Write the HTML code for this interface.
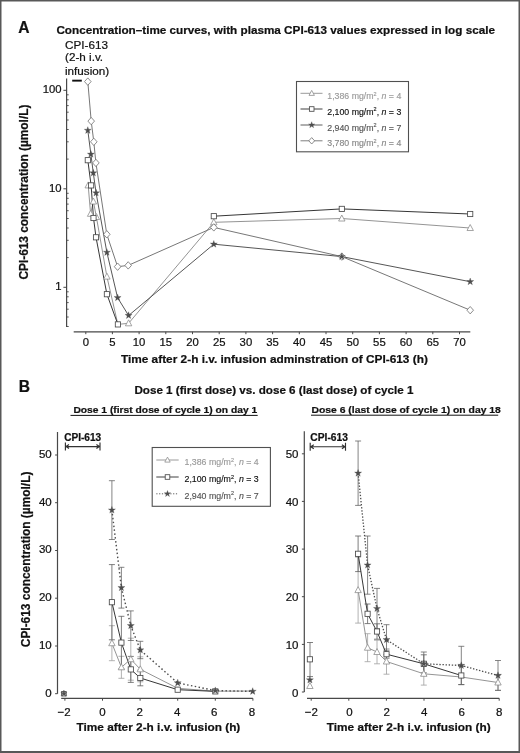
<!DOCTYPE html>
<html><head><meta charset="utf-8"><title>CPI-613 concentration–time curves</title>
<style>
html,body{margin:0;padding:0;background:#fff;}
body{width:520px;height:753px;overflow:hidden;position:relative;}
svg{position:absolute;left:0;top:0;}
svg text{font-family:"Liberation Sans",sans-serif;stroke:#111;stroke-width:0.22px;}
</style></head><body>
<svg width="520" height="753" viewBox="0 0 520 753">
<rect x="0" y="0" width="520" height="753" fill="#fff"/>
<text x="18.2" y="32.5" font-size="15.6" font-weight="bold" text-anchor="start" fill="#111">A</text>
<text x="56.4" y="34.2" font-size="11.7" font-weight="bold" text-anchor="start" fill="#111" textLength="438.6" lengthAdjust="spacingAndGlyphs">Concentration–time curves, with plasma CPI-613 values expressed in log scale</text>
<text x="65" y="48.7" font-size="11.7" font-weight="normal" text-anchor="start" fill="#111">CPI-613</text>
<text x="65" y="61" font-size="11.7" font-weight="normal" text-anchor="start" fill="#111">(2-h i.v.</text>
<text x="65" y="74.5" font-size="11.7" font-weight="normal" text-anchor="start" fill="#111">infusion)</text>
<rect x="72.2" y="79.7" width="9.6" height="1.9" fill="#111"/>
<path d="M66.6,78.5V327" stroke="#484848" stroke-width="1.2" fill="none"/>
<path d="M63.4,90.3H66.5" stroke="#484848" stroke-width="1"/>
<text x="61.6" y="93.1" font-size="11.3" font-weight="normal" text-anchor="end" fill="#111">100</text>
<path d="M63.4,188.8H66.5" stroke="#484848" stroke-width="1"/>
<text x="61.6" y="191.6" font-size="11.3" font-weight="normal" text-anchor="end" fill="#111">10</text>
<path d="M63.4,287.3H66.5" stroke="#484848" stroke-width="1"/>
<text x="61.6" y="290.1" font-size="11.3" font-weight="normal" text-anchor="end" fill="#111">1</text>
<path d="M66.5,326.5h2.2M66.5,317.0h2.2M66.5,309.2h2.2M66.5,302.6h2.2M66.5,296.8h2.2M66.5,291.8h2.2M66.5,257.6h2.2M66.5,240.3h2.2M66.5,228.0h2.2M66.5,218.5h2.2M66.5,210.7h2.2M66.5,204.1h2.2M66.5,198.3h2.2M66.5,193.3h2.2M66.5,159.1h2.2M66.5,141.8h2.2M66.5,129.5h2.2M66.5,120.0h2.2M66.5,112.2h2.2M66.5,105.6h2.2M66.5,99.8h2.2M66.5,94.8h2.2" stroke="#484848" stroke-width="0.9" fill="none"/>
<path d="M73.7,331.8H470.3" stroke="#484848" stroke-width="1.2" fill="none"/>
<text x="85.8" y="346.4" font-size="11.3" font-weight="normal" text-anchor="middle" fill="#111">0</text>
<text x="112.4" y="346.4" font-size="11.3" font-weight="normal" text-anchor="middle" fill="#111">5</text>
<text x="139.1" y="346.4" font-size="11.3" font-weight="normal" text-anchor="middle" fill="#111">10</text>
<text x="165.8" y="346.4" font-size="11.3" font-weight="normal" text-anchor="middle" fill="#111">15</text>
<text x="192.5" y="346.4" font-size="11.3" font-weight="normal" text-anchor="middle" fill="#111">20</text>
<text x="219.2" y="346.4" font-size="11.3" font-weight="normal" text-anchor="middle" fill="#111">25</text>
<text x="245.9" y="346.4" font-size="11.3" font-weight="normal" text-anchor="middle" fill="#111">30</text>
<text x="272.6" y="346.4" font-size="11.3" font-weight="normal" text-anchor="middle" fill="#111">35</text>
<text x="299.3" y="346.4" font-size="11.3" font-weight="normal" text-anchor="middle" fill="#111">40</text>
<text x="326.0" y="346.4" font-size="11.3" font-weight="normal" text-anchor="middle" fill="#111">45</text>
<text x="352.7" y="346.4" font-size="11.3" font-weight="normal" text-anchor="middle" fill="#111">50</text>
<text x="379.4" y="346.4" font-size="11.3" font-weight="normal" text-anchor="middle" fill="#111">55</text>
<text x="406.1" y="346.4" font-size="11.3" font-weight="normal" text-anchor="middle" fill="#111">60</text>
<text x="432.8" y="346.4" font-size="11.3" font-weight="normal" text-anchor="middle" fill="#111">65</text>
<text x="459.5" y="346.4" font-size="11.3" font-weight="normal" text-anchor="middle" fill="#111">70</text>
<path d="M85.8,331.8v2.4M112.4,331.8v2.4M139.1,331.8v2.4M165.8,331.8v2.4M192.5,331.8v2.4M219.2,331.8v2.4M245.9,331.8v2.4M272.6,331.8v2.4M299.3,331.8v2.4M326.0,331.8v2.4M352.7,331.8v2.4M379.4,331.8v2.4M406.1,331.8v2.4M432.8,331.8v2.4M459.5,331.8v2.4" stroke="#484848" stroke-width="1" fill="none"/>
<text x="274.4" y="362.8" font-size="11.8" font-weight="bold" text-anchor="middle" fill="#111" textLength="307" lengthAdjust="spacingAndGlyphs">Time after 2-h i.v. infusion adminstration of CPI-613 (h)</text>
<text transform="translate(28.1,192.1) rotate(-90)" font-size="11.9" font-weight="bold" text-anchor="middle" fill="#111" textLength="175" lengthAdjust="spacingAndGlyphs">CPI-613 concentration (µmol/L)</text>
<polyline points="88.2,185.4 90.6,213.8 93.4,201.5 96.4,217.0 106.9,276.6 117.9,324.4 128.6,323.3 213.8,222.3 341.8,218.5 470.2,228.0" fill="none" stroke="#8e8e8e" stroke-width="0.95"/>
<polyline points="87.8,81.6 91.2,121.1 93.8,141.8 95.9,162.9 106.8,234.3 117.6,266.7 128.2,265.4 213.8,227.4 341.8,256.6 470.2,310.2" fill="none" stroke="#707070" stroke-width="0.95"/>
<polyline points="87.8,130.4 90.9,154.3 93.3,173.0 96.1,193.0 106.9,252.4 117.6,297.7 128.6,315.5 213.8,244.2 341.8,256.6 470.2,281.7" fill="none" stroke="#4d4d4d" stroke-width="0.95"/>
<polyline points="87.8,160.2 91.1,185.4 93.5,218.0 96.0,237.3 106.9,294.2 117.9,324.4" fill="none" stroke="#2b2b2b" stroke-width="0.95"/>
<polyline points="213.8,216.2 341.8,208.9 470.2,214.0" fill="none" stroke="#2b2b2b" stroke-width="0.95"/>
<polygon points="88.20,181.92 91.40,187.92 85.00,187.92" fill="#fff" stroke="#8e8e8e" stroke-width="0.8"/>
<polygon points="90.60,210.32 93.80,216.32 87.40,216.32" fill="#fff" stroke="#8e8e8e" stroke-width="0.8"/>
<polygon points="93.40,198.02 96.60,204.02 90.20,204.02" fill="#fff" stroke="#8e8e8e" stroke-width="0.8"/>
<polygon points="96.40,213.52 99.60,219.52 93.20,219.52" fill="#fff" stroke="#8e8e8e" stroke-width="0.8"/>
<polygon points="106.90,273.12 110.10,279.12 103.70,279.12" fill="#fff" stroke="#8e8e8e" stroke-width="0.8"/>
<polygon points="128.60,319.82 131.80,325.82 125.40,325.82" fill="#fff" stroke="#8e8e8e" stroke-width="0.8"/>
<polygon points="213.80,218.82 217.00,224.82 210.60,224.82" fill="#fff" stroke="#8e8e8e" stroke-width="0.8"/>
<polygon points="341.80,215.02 345.00,221.02 338.60,221.02" fill="#fff" stroke="#8e8e8e" stroke-width="0.8"/>
<polygon points="470.20,224.52 473.40,230.52 467.00,230.52" fill="#fff" stroke="#8e8e8e" stroke-width="0.8"/>
<polygon points="87.80,77.90 91.10,81.60 87.80,85.30 84.50,81.60" fill="#fff" stroke="#707070" stroke-width="0.8"/>
<polygon points="91.20,117.40 94.50,121.10 91.20,124.80 87.90,121.10" fill="#fff" stroke="#707070" stroke-width="0.8"/>
<polygon points="93.80,138.10 97.10,141.80 93.80,145.50 90.50,141.80" fill="#fff" stroke="#707070" stroke-width="0.8"/>
<polygon points="95.90,159.20 99.20,162.90 95.90,166.60 92.60,162.90" fill="#fff" stroke="#707070" stroke-width="0.8"/>
<polygon points="106.80,230.60 110.10,234.30 106.80,238.00 103.50,234.30" fill="#fff" stroke="#707070" stroke-width="0.8"/>
<polygon points="117.60,263.00 120.90,266.70 117.60,270.40 114.30,266.70" fill="#fff" stroke="#707070" stroke-width="0.8"/>
<polygon points="128.20,261.70 131.50,265.40 128.20,269.10 124.90,265.40" fill="#fff" stroke="#707070" stroke-width="0.8"/>
<polygon points="213.80,223.70 217.10,227.40 213.80,231.10 210.50,227.40" fill="#fff" stroke="#707070" stroke-width="0.8"/>
<polygon points="341.80,252.90 345.10,256.60 341.80,260.30 338.50,256.60" fill="#fff" stroke="#707070" stroke-width="0.8"/>
<polygon points="470.20,306.50 473.50,310.20 470.20,313.90 466.90,310.20" fill="#fff" stroke="#707070" stroke-width="0.8"/>
<polygon points="87.80,126.70 88.67,129.20 91.32,129.26 89.21,130.86 89.97,133.39 87.80,131.88 85.63,133.39 86.39,130.86 84.28,129.26 86.93,129.20" fill="#4d4d4d" stroke="#4d4d4d" stroke-width="0.3"/>
<polygon points="90.90,150.60 91.77,153.10 94.42,153.16 92.31,154.76 93.07,157.29 90.90,155.78 88.73,157.29 89.49,154.76 87.38,153.16 90.03,153.10" fill="#4d4d4d" stroke="#4d4d4d" stroke-width="0.3"/>
<polygon points="93.30,169.30 94.17,171.80 96.82,171.86 94.71,173.46 95.47,175.99 93.30,174.48 91.13,175.99 91.89,173.46 89.78,171.86 92.43,171.80" fill="#4d4d4d" stroke="#4d4d4d" stroke-width="0.3"/>
<polygon points="96.10,189.30 96.97,191.80 99.62,191.86 97.51,193.46 98.27,195.99 96.10,194.48 93.93,195.99 94.69,193.46 92.58,191.86 95.23,191.80" fill="#4d4d4d" stroke="#4d4d4d" stroke-width="0.3"/>
<polygon points="106.90,248.70 107.77,251.20 110.42,251.26 108.31,252.86 109.07,255.39 106.90,253.88 104.73,255.39 105.49,252.86 103.38,251.26 106.03,251.20" fill="#4d4d4d" stroke="#4d4d4d" stroke-width="0.3"/>
<polygon points="117.60,294.00 118.47,296.50 121.12,296.56 119.01,298.16 119.77,300.69 117.60,299.18 115.43,300.69 116.19,298.16 114.08,296.56 116.73,296.50" fill="#4d4d4d" stroke="#4d4d4d" stroke-width="0.3"/>
<polygon points="128.60,311.80 129.47,314.30 132.12,314.36 130.01,315.96 130.77,318.49 128.60,316.98 126.43,318.49 127.19,315.96 125.08,314.36 127.73,314.30" fill="#4d4d4d" stroke="#4d4d4d" stroke-width="0.3"/>
<polygon points="213.80,240.50 214.67,243.00 217.32,243.06 215.21,244.66 215.97,247.19 213.80,245.68 211.63,247.19 212.39,244.66 210.28,243.06 212.93,243.00" fill="#4d4d4d" stroke="#4d4d4d" stroke-width="0.3"/>
<polygon points="341.80,252.90 342.67,255.40 345.32,255.46 343.21,257.06 343.97,259.59 341.80,258.08 339.63,259.59 340.39,257.06 338.28,255.46 340.93,255.40" fill="#4d4d4d" stroke="#4d4d4d" stroke-width="0.3"/>
<polygon points="470.20,278.00 471.07,280.50 473.72,280.56 471.61,282.16 472.37,284.69 470.20,283.18 468.03,284.69 468.79,282.16 466.68,280.56 469.33,280.50" fill="#4d4d4d" stroke="#4d4d4d" stroke-width="0.3"/>
<rect x="85.20" y="157.60" width="5.2" height="5.2" fill="#fff" stroke="#4a4a4a" stroke-width="0.85"/>
<rect x="88.50" y="182.80" width="5.2" height="5.2" fill="#fff" stroke="#4a4a4a" stroke-width="0.85"/>
<rect x="90.90" y="215.40" width="5.2" height="5.2" fill="#fff" stroke="#4a4a4a" stroke-width="0.85"/>
<rect x="93.40" y="234.70" width="5.2" height="5.2" fill="#fff" stroke="#4a4a4a" stroke-width="0.85"/>
<rect x="104.30" y="291.60" width="5.2" height="5.2" fill="#fff" stroke="#4a4a4a" stroke-width="0.85"/>
<rect x="115.30" y="321.80" width="5.2" height="5.2" fill="#fff" stroke="#4a4a4a" stroke-width="0.85"/>
<rect x="211.20" y="213.60" width="5.2" height="5.2" fill="#fff" stroke="#4a4a4a" stroke-width="0.85"/>
<rect x="339.20" y="206.30" width="5.2" height="5.2" fill="#fff" stroke="#4a4a4a" stroke-width="0.85"/>
<rect x="467.60" y="211.40" width="5.2" height="5.2" fill="#fff" stroke="#4a4a4a" stroke-width="0.85"/>
<rect x="296.5" y="81.5" width="112" height="70.3" fill="#fff" stroke="#505050" stroke-width="1.1"/>
<polyline points="300.5,93.3 322.5,93.3" fill="none" stroke="#8e8e8e" stroke-width="0.9"/>
<polygon points="311.70,90.40 314.40,95.40 309.00,95.40" fill="#fff" stroke="#8e8e8e" stroke-width="0.8"/>
<text x="327.3" y="98.9" font-size="9" fill="#9a9a9a" style="stroke:#9a9a9a;stroke-width:0.15px" textLength="74" lengthAdjust="spacingAndGlyphs">1,386 mg/m<tspan font-size="5.6" dy="-3.2">2</tspan><tspan dy="3.2">, </tspan><tspan font-style="italic">n</tspan> = 4</text>
<polyline points="300.5,109.0 322.5,109.0" fill="none" stroke="#2b2b2b" stroke-width="0.9"/>
<rect x="309.40" y="106.70" width="4.6" height="4.6" fill="#fff" stroke="#4a4a4a" stroke-width="0.85"/>
<text x="327.3" y="114.6" font-size="9" fill="#111" style="stroke:#111;stroke-width:0.15px" textLength="74" lengthAdjust="spacingAndGlyphs">2,100 mg/m<tspan font-size="5.6" dy="-3.2">2</tspan><tspan dy="3.2">, </tspan><tspan font-style="italic">n</tspan> = 3</text>
<polyline points="300.5,125.0 322.5,125.0" fill="none" stroke="#4d4d4d" stroke-width="0.9"/>
<polygon points="311.70,121.70 312.48,123.93 314.84,123.98 312.96,125.41 313.64,127.67 311.70,126.32 309.76,127.67 310.44,125.41 308.56,123.98 310.92,123.93" fill="#4d4d4d" stroke="#4d4d4d" stroke-width="0.3"/>
<text x="327.3" y="130.6" font-size="9" fill="#555" style="stroke:#555;stroke-width:0.15px" textLength="74" lengthAdjust="spacingAndGlyphs">2,940 mg/m<tspan font-size="5.6" dy="-3.2">2</tspan><tspan dy="3.2">, </tspan><tspan font-style="italic">n</tspan> = 7</text>
<polyline points="300.5,140.8 322.5,140.8" fill="none" stroke="#707070" stroke-width="0.9"/>
<polygon points="311.70,137.60 314.60,140.80 311.70,144.00 308.80,140.80" fill="#fff" stroke="#707070" stroke-width="0.8"/>
<text x="327.3" y="146.4" font-size="9" fill="#888" style="stroke:#888;stroke-width:0.15px" textLength="74" lengthAdjust="spacingAndGlyphs">3,780 mg/m<tspan font-size="5.6" dy="-3.2">2</tspan><tspan dy="3.2">, </tspan><tspan font-style="italic">n</tspan> = 4</text>
<text x="18.7" y="392" font-size="15.6" font-weight="bold" text-anchor="start" fill="#111">B</text>
<text x="273.9" y="393.6" font-size="11.65" font-weight="bold" text-anchor="middle" fill="#111" textLength="279" lengthAdjust="spacingAndGlyphs">Dose 1 (first dose) vs. dose 6 (last dose) of cycle 1</text>
<text x="73.4" y="413.4" font-size="9.9" font-weight="bold" text-anchor="start" fill="#111" textLength="183.8" lengthAdjust="spacingAndGlyphs">Dose 1 (first dose of cycle 1) on day 1</text>
<path d="M70.5,415.4H257.7" stroke="#111" stroke-width="1"/>
<text x="311.5" y="413.4" font-size="9.9" font-weight="bold" text-anchor="start" fill="#111" textLength="189.3" lengthAdjust="spacingAndGlyphs">Dose 6 (last dose of cycle 1) on day 18</text>
<path d="M311,415.2H498.2" stroke="#111" stroke-width="1"/>
<path d="M57.5,432V693.7" stroke="#484848" stroke-width="1.2" fill="none"/>
<text x="51.7" y="696.6" font-size="11.5" font-weight="normal" text-anchor="end" fill="#111">0</text>
<text x="51.7" y="648.9" font-size="11.5" font-weight="normal" text-anchor="end" fill="#111">10</text>
<text x="51.7" y="601.1" font-size="11.5" font-weight="normal" text-anchor="end" fill="#111">20</text>
<text x="51.7" y="553.4" font-size="11.5" font-weight="normal" text-anchor="end" fill="#111">30</text>
<text x="51.7" y="505.6" font-size="11.5" font-weight="normal" text-anchor="end" fill="#111">40</text>
<text x="51.7" y="457.9" font-size="11.5" font-weight="normal" text-anchor="end" fill="#111">50</text>
<path d="M55.1,693.7H57.5M55.1,646.0H57.5M55.1,598.2H57.5M55.1,550.5H57.5M55.1,502.7H57.5M55.1,455.0H57.5" stroke="#484848" stroke-width="1" fill="none"/>
<path d="M61.2,698.3H252.9" stroke="#484848" stroke-width="1.2" fill="none"/>
<text x="64.0" y="715.8" font-size="11.5" font-weight="normal" text-anchor="middle" fill="#111">−2</text>
<text x="102.5" y="715.8" font-size="11.5" font-weight="normal" text-anchor="middle" fill="#111">0</text>
<text x="139.8" y="715.8" font-size="11.5" font-weight="normal" text-anchor="middle" fill="#111">2</text>
<text x="177.1" y="715.8" font-size="11.5" font-weight="normal" text-anchor="middle" fill="#111">4</text>
<text x="214.3" y="715.8" font-size="11.5" font-weight="normal" text-anchor="middle" fill="#111">6</text>
<text x="251.9" y="715.8" font-size="11.5" font-weight="normal" text-anchor="middle" fill="#111">8</text>
<path d="M64.9,698.3v2.4M102.5,698.3v2.4M140.1,698.3v2.4M177.7,698.3v2.4M215.3,698.3v2.4M252.9,698.3v2.4" stroke="#484848" stroke-width="1" fill="none"/>
<text x="76.5" y="730.5" font-size="11.8" font-weight="bold" text-anchor="start" fill="#111" textLength="163.8" lengthAdjust="spacingAndGlyphs">Time after 2-h i.v. infusion (h)</text>
<text transform="translate(30.2,559.4) rotate(-90)" font-size="11.9" font-weight="bold" text-anchor="middle" fill="#111" textLength="175.6" lengthAdjust="spacingAndGlyphs">CPI-613 concentration (µmol/L)</text>
<text x="64.2" y="440.8" font-size="10" font-weight="bold" text-anchor="start" fill="#111" textLength="37" lengthAdjust="spacingAndGlyphs">CPI-613</text>
<path d="M65.4,442.6V450.6M100,442.6V450.6M65.4,446.6H100M69.0,444.6L66.0,446.6L69.0,448.6M96.4,444.6L99.4,446.6L96.4,448.6" stroke="#333" stroke-width="1.15" fill="none"/>
<polygon points="63.90,690.60 66.65,695.60 61.15,695.60" fill="#fff" stroke="#8e8e8e" stroke-width="0.8"/>
<rect x="61.65" y="691.45" width="4.5" height="4.5" fill="#fff" stroke="#4a4a4a" stroke-width="0.85"/>
<polygon points="63.90,690.20 64.68,692.43 67.04,692.48 65.16,693.91 65.84,696.17 63.90,694.82 61.96,696.17 62.64,693.91 60.76,692.48 63.12,692.43" fill="#4d4d4d" stroke="#4d4d4d" stroke-width="0.3"/>
<path d="M111.9,625.7V660.7M108.9,625.7H114.9M108.9,660.7H114.9" stroke="#a0a0a0" stroke-width="0.8" fill="none"/>
<path d="M121.4,656.3V678.3M118.4,656.3H124.4M118.4,678.3H124.4" stroke="#a0a0a0" stroke-width="0.8" fill="none"/>
<path d="M130.8,638.2V680.2M127.8,638.2H133.8M127.8,680.2H133.8" stroke="#a0a0a0" stroke-width="0.8" fill="none"/>
<path d="M140.3,656.8V681.8M137.3,656.8H143.3M137.3,681.8H143.3" stroke="#a0a0a0" stroke-width="0.8" fill="none"/>
<path d="M111.9,564.6V639.8M108.9,564.6H114.9M108.9,639.8H114.9" stroke="#5e5e5e" stroke-width="0.8" fill="none"/>
<path d="M121.4,616.3V668.9M118.4,616.3H124.4M118.4,668.9H124.4" stroke="#5e5e5e" stroke-width="0.8" fill="none"/>
<path d="M130.8,656.4V682.4M127.8,656.4H133.8M127.8,682.4H133.8" stroke="#5e5e5e" stroke-width="0.8" fill="none"/>
<path d="M140.3,670.2V685.8M137.3,670.2H143.3M137.3,685.8H143.3" stroke="#5e5e5e" stroke-width="0.8" fill="none"/>
<path d="M111.9,480.7V539.5M108.9,480.7H114.9M108.9,539.5H114.9" stroke="#666" stroke-width="0.8" fill="none"/>
<path d="M121.4,567.3V608.1M118.4,567.3H124.4M118.4,608.1H124.4" stroke="#666" stroke-width="0.8" fill="none"/>
<path d="M130.8,610.9V640.5M127.8,610.9H133.8M127.8,640.5H133.8" stroke="#666" stroke-width="0.8" fill="none"/>
<path d="M140.3,641.3V658.7M137.3,641.3H143.3M137.3,658.7H143.3" stroke="#666" stroke-width="0.8" fill="none"/>
<polyline points="111.9,643.2 121.4,667.3 130.8,659.2 140.3,669.3 177.7,688.3 215.3,691.2 252.7,691.0" fill="none" stroke="#8e8e8e" stroke-width="0.95"/>
<polyline points="111.9,602.2 121.4,642.6 130.8,669.4 140.3,678.0 177.7,689.7 215.3,691.4" fill="none" stroke="#2b2b2b" stroke-width="0.95"/>
<polyline points="111.9,510.1 121.4,587.7 130.8,625.7 140.3,650.0 177.7,682.9 215.3,690.6 252.7,691.4" fill="none" stroke="#4d4d4d" stroke-width="1.4" stroke-dasharray="1.5,2.4"/>
<polygon points="111.90,639.72 115.10,645.72 108.70,645.72" fill="#fff" stroke="#8e8e8e" stroke-width="0.8"/>
<polygon points="121.40,663.82 124.60,669.82 118.20,669.82" fill="#fff" stroke="#8e8e8e" stroke-width="0.8"/>
<polygon points="130.80,655.72 134.00,661.72 127.60,661.72" fill="#fff" stroke="#8e8e8e" stroke-width="0.8"/>
<polygon points="140.30,665.82 143.50,671.82 137.10,671.82" fill="#fff" stroke="#8e8e8e" stroke-width="0.8"/>
<rect x="109.30" y="599.60" width="5.2" height="5.2" fill="#fff" stroke="#4a4a4a" stroke-width="0.85"/>
<rect x="118.80" y="640.00" width="5.2" height="5.2" fill="#fff" stroke="#4a4a4a" stroke-width="0.85"/>
<rect x="128.20" y="666.80" width="5.2" height="5.2" fill="#fff" stroke="#4a4a4a" stroke-width="0.85"/>
<rect x="137.70" y="675.40" width="5.2" height="5.2" fill="#fff" stroke="#4a4a4a" stroke-width="0.85"/>
<rect x="175.10" y="687.10" width="5.2" height="5.2" fill="#fff" stroke="#4a4a4a" stroke-width="0.85"/>
<rect x="212.70" y="688.80" width="5.2" height="5.2" fill="#fff" stroke="#4a4a4a" stroke-width="0.85"/>
<polygon points="111.90,506.40 112.77,508.90 115.42,508.96 113.31,510.56 114.07,513.09 111.90,511.58 109.73,513.09 110.49,510.56 108.38,508.96 111.03,508.90" fill="#4d4d4d" stroke="#4d4d4d" stroke-width="0.3"/>
<polygon points="121.40,584.00 122.27,586.50 124.92,586.56 122.81,588.16 123.57,590.69 121.40,589.18 119.23,590.69 119.99,588.16 117.88,586.56 120.53,586.50" fill="#4d4d4d" stroke="#4d4d4d" stroke-width="0.3"/>
<polygon points="130.80,622.00 131.67,624.50 134.32,624.56 132.21,626.16 132.97,628.69 130.80,627.18 128.63,628.69 129.39,626.16 127.28,624.56 129.93,624.50" fill="#4d4d4d" stroke="#4d4d4d" stroke-width="0.3"/>
<polygon points="140.30,646.30 141.17,648.80 143.82,648.86 141.71,650.46 142.47,652.99 140.30,651.48 138.13,652.99 138.89,650.46 136.78,648.86 139.43,648.80" fill="#4d4d4d" stroke="#4d4d4d" stroke-width="0.3"/>
<polygon points="177.70,679.20 178.57,681.70 181.22,681.76 179.11,683.36 179.87,685.89 177.70,684.38 175.53,685.89 176.29,683.36 174.18,681.76 176.83,681.70" fill="#4d4d4d" stroke="#4d4d4d" stroke-width="0.3"/>
<polygon points="215.30,686.90 216.17,689.40 218.82,689.46 216.71,691.06 217.47,693.59 215.30,692.08 213.13,693.59 213.89,691.06 211.78,689.46 214.43,689.40" fill="#4d4d4d" stroke="#4d4d4d" stroke-width="0.3"/>
<polygon points="252.70,687.70 253.57,690.20 256.22,690.26 254.11,691.86 254.87,694.39 252.70,692.88 250.53,694.39 251.29,691.86 249.18,690.26 251.83,690.20" fill="#4d4d4d" stroke="#4d4d4d" stroke-width="0.3"/>
<rect x="152.2" y="447.5" width="118.2" height="58.8" fill="#fff" stroke="#505050" stroke-width="1.1"/>
<polyline points="156.3,460.0 178.7,460.0" fill="none" stroke="#8e8e8e" stroke-width="0.9"/>
<polygon points="167.50,457.10 170.20,462.10 164.80,462.10" fill="#fff" stroke="#8e8e8e" stroke-width="0.8"/>
<text x="184.5" y="464.8" font-size="9" fill="#9a9a9a" style="stroke:#9a9a9a;stroke-width:0.15px" textLength="74.2" lengthAdjust="spacingAndGlyphs">1,386 mg/m<tspan font-size="5.6" dy="-3.2">2</tspan><tspan dy="3.2">, </tspan><tspan font-style="italic">n</tspan> = 4</text>
<polyline points="156.3,477.0 178.7,477.0" fill="none" stroke="#2b2b2b" stroke-width="0.9"/>
<rect x="165.20" y="474.70" width="4.6" height="4.6" fill="#fff" stroke="#4a4a4a" stroke-width="0.85"/>
<text x="184.5" y="481.8" font-size="9" fill="#111" style="stroke:#111;stroke-width:0.15px" textLength="74.2" lengthAdjust="spacingAndGlyphs">2,100 mg/m<tspan font-size="5.6" dy="-3.2">2</tspan><tspan dy="3.2">, </tspan><tspan font-style="italic">n</tspan> = 3</text>
<polyline points="156.3,493.8 178.7,493.8" fill="none" stroke="#4d4d4d" stroke-width="0.9" stroke-dasharray="1.2,1.6"/>
<polygon points="167.50,490.50 168.28,492.73 170.64,492.78 168.76,494.21 169.44,496.47 167.50,495.12 165.56,496.47 166.24,494.21 164.36,492.78 166.72,492.73" fill="#4d4d4d" stroke="#4d4d4d" stroke-width="0.3"/>
<text x="184.5" y="498.6" font-size="9" fill="#555" style="stroke:#555;stroke-width:0.15px" textLength="74.2" lengthAdjust="spacingAndGlyphs">2,940 mg/m<tspan font-size="5.6" dy="-3.2">2</tspan><tspan dy="3.2">, </tspan><tspan font-style="italic">n</tspan> = 7</text>
<path d="M304.3,431.3V692" stroke="#484848" stroke-width="1.2" fill="none"/>
<text x="298.5" y="696.6" font-size="11.5" font-weight="normal" text-anchor="end" fill="#111">0</text>
<text x="298.5" y="648.9" font-size="11.5" font-weight="normal" text-anchor="end" fill="#111">10</text>
<text x="298.5" y="601.1" font-size="11.5" font-weight="normal" text-anchor="end" fill="#111">20</text>
<text x="298.5" y="553.4" font-size="11.5" font-weight="normal" text-anchor="end" fill="#111">30</text>
<text x="298.5" y="505.6" font-size="11.5" font-weight="normal" text-anchor="end" fill="#111">40</text>
<text x="298.5" y="457.9" font-size="11.5" font-weight="normal" text-anchor="end" fill="#111">50</text>
<path d="M301.90000000000003,692.0H304.3M301.90000000000003,644.4H304.3M301.90000000000003,596.7H304.3M301.90000000000003,549.1H304.3M301.90000000000003,501.4H304.3M301.90000000000003,453.8H304.3" stroke="#484848" stroke-width="1" fill="none"/>
<path d="M307,698.3H499.2" stroke="#484848" stroke-width="1.2" fill="none"/>
<text x="311.4" y="715.8" font-size="11.5" font-weight="normal" text-anchor="middle" fill="#111">−2</text>
<text x="349.4" y="715.8" font-size="11.5" font-weight="normal" text-anchor="middle" fill="#111">0</text>
<text x="386.8" y="715.8" font-size="11.5" font-weight="normal" text-anchor="middle" fill="#111">2</text>
<text x="424.2" y="715.8" font-size="11.5" font-weight="normal" text-anchor="middle" fill="#111">4</text>
<text x="461.6" y="715.8" font-size="11.5" font-weight="normal" text-anchor="middle" fill="#111">6</text>
<text x="499.2" y="715.8" font-size="11.5" font-weight="normal" text-anchor="middle" fill="#111">8</text>
<path d="M311.2,698.3v2.4M348.8,698.3v2.4M386.4,698.3v2.4M424.0,698.3v2.4M461.6,698.3v2.4M499.2,698.3v2.4" stroke="#484848" stroke-width="1" fill="none"/>
<text x="326.8" y="730.5" font-size="11.8" font-weight="bold" text-anchor="start" fill="#111" textLength="163.8" lengthAdjust="spacingAndGlyphs">Time after 2-h i.v. infusion (h)</text>
<text x="310.3" y="440.8" font-size="10" font-weight="bold" text-anchor="start" fill="#111" textLength="37.6" lengthAdjust="spacingAndGlyphs">CPI-613</text>
<path d="M310.2,442.7V450.7M345.5,442.7V450.7M310.2,446.7H345.5M313.8,444.7L310.8,446.7L313.8,448.7M341.9,444.7L344.9,446.7L341.9,448.7" stroke="#333" stroke-width="1.15" fill="none"/>
<path d="M310.0,642.5V676.6M307.0,642.5H313.0M307.0,676.6H313.0" stroke="#5e5e5e" stroke-width="0.8" fill="none"/>
<path d="M358.1,557.1V623.1M355.1,557.1H361.1M355.1,623.1H361.1" stroke="#a0a0a0" stroke-width="0.8" fill="none"/>
<path d="M367.6,633.7V661.7M364.6,633.7H370.6M364.6,661.7H370.6" stroke="#a0a0a0" stroke-width="0.8" fill="none"/>
<path d="M377.0,640.2V663.8M374.0,640.2H380.0M374.0,663.8H380.0" stroke="#a0a0a0" stroke-width="0.8" fill="none"/>
<path d="M386.5,648.8V674.2M383.5,648.8H389.5M383.5,674.2H389.5" stroke="#a0a0a0" stroke-width="0.8" fill="none"/>
<path d="M423.8,662.5V685.1M420.8,662.5H426.8M420.8,685.1H426.8" stroke="#a0a0a0" stroke-width="0.8" fill="none"/>
<path d="M498.0,674.9V690.1M495.0,674.9H501.0M495.0,690.1H501.0" stroke="#a0a0a0" stroke-width="0.8" fill="none"/>
<path d="M358.1,536.0V571.6M355.1,536.0H361.1M355.1,571.6H361.1" stroke="#5e5e5e" stroke-width="0.8" fill="none"/>
<path d="M367.6,604.0V623.6M364.6,604.0H370.6M364.6,623.6H370.6" stroke="#5e5e5e" stroke-width="0.8" fill="none"/>
<path d="M377.0,623.8V639.2M374.0,623.8H380.0M374.0,639.2H380.0" stroke="#5e5e5e" stroke-width="0.8" fill="none"/>
<path d="M386.5,650.2V658.2M383.5,650.2H389.5M383.5,658.2H389.5" stroke="#5e5e5e" stroke-width="0.8" fill="none"/>
<path d="M423.8,654.8V672.8M420.8,654.8H426.8M420.8,672.8H426.8" stroke="#5e5e5e" stroke-width="0.8" fill="none"/>
<path d="M461.3,666.5V684.5M458.3,666.5H464.3M458.3,684.5H464.3" stroke="#5e5e5e" stroke-width="0.8" fill="none"/>
<path d="M358.1,441.0V505.4M355.1,441.0H361.1M355.1,505.4H361.1" stroke="#666" stroke-width="0.8" fill="none"/>
<path d="M367.6,536.0V594.2M364.6,536.0H370.6M364.6,594.2H370.6" stroke="#666" stroke-width="0.8" fill="none"/>
<path d="M377.0,588.4V628.8M374.0,588.4H380.0M374.0,628.8H380.0" stroke="#666" stroke-width="0.8" fill="none"/>
<path d="M386.5,624.7V654.7M383.5,624.7H389.5M383.5,654.7H389.5" stroke="#666" stroke-width="0.8" fill="none"/>
<path d="M423.8,652.0V675.6M420.8,652.0H426.8M420.8,675.6H426.8" stroke="#666" stroke-width="0.8" fill="none"/>
<path d="M461.3,646.3V684.7M458.3,646.3H464.3M458.3,684.7H464.3" stroke="#666" stroke-width="0.8" fill="none"/>
<path d="M498.0,660.5V690.5M495.0,660.5H501.0M495.0,690.5H501.0" stroke="#666" stroke-width="0.8" fill="none"/>
<polyline points="358.1,590.1 367.6,647.7 377.0,652.0 386.5,661.5 423.8,673.8 461.3,677.0 498.0,682.5" fill="none" stroke="#8e8e8e" stroke-width="0.95"/>
<polyline points="358.1,553.8 367.6,613.8 377.0,631.5 386.5,654.2 423.8,663.8 461.3,675.5" fill="none" stroke="#2b2b2b" stroke-width="0.95"/>
<polyline points="358.1,473.2 367.6,565.1 377.0,608.6 386.5,639.7 423.8,663.8 461.3,665.5 498.0,675.5" fill="none" stroke="#4d4d4d" stroke-width="1.3" stroke-dasharray="1.4,1.7"/>
<polygon points="309.90,682.52 313.10,688.52 306.70,688.52" fill="#fff" stroke="#8e8e8e" stroke-width="0.8"/>
<polygon points="309.90,676.30 310.77,678.80 313.42,678.86 311.31,680.46 312.07,682.99 309.90,681.48 307.73,682.99 308.49,680.46 306.38,678.86 309.03,678.80" fill="#4d4d4d" stroke="#4d4d4d" stroke-width="0.3"/>
<rect x="307.30" y="656.70" width="5.2" height="5.2" fill="#fff" stroke="#4a4a4a" stroke-width="0.85"/>
<polygon points="358.10,586.62 361.30,592.62 354.90,592.62" fill="#fff" stroke="#8e8e8e" stroke-width="0.8"/>
<polygon points="367.60,644.22 370.80,650.22 364.40,650.22" fill="#fff" stroke="#8e8e8e" stroke-width="0.8"/>
<polygon points="377.00,648.52 380.20,654.52 373.80,654.52" fill="#fff" stroke="#8e8e8e" stroke-width="0.8"/>
<polygon points="386.50,658.02 389.70,664.02 383.30,664.02" fill="#fff" stroke="#8e8e8e" stroke-width="0.8"/>
<polygon points="423.80,670.32 427.00,676.32 420.60,676.32" fill="#fff" stroke="#8e8e8e" stroke-width="0.8"/>
<polygon points="498.00,679.02 501.20,685.02 494.80,685.02" fill="#fff" stroke="#8e8e8e" stroke-width="0.8"/>
<rect x="355.50" y="551.20" width="5.2" height="5.2" fill="#fff" stroke="#4a4a4a" stroke-width="0.85"/>
<rect x="365.00" y="611.20" width="5.2" height="5.2" fill="#fff" stroke="#4a4a4a" stroke-width="0.85"/>
<rect x="374.40" y="628.90" width="5.2" height="5.2" fill="#fff" stroke="#4a4a4a" stroke-width="0.85"/>
<rect x="383.90" y="651.60" width="5.2" height="5.2" fill="#fff" stroke="#4a4a4a" stroke-width="0.85"/>
<rect x="421.20" y="661.20" width="5.2" height="5.2" fill="#fff" stroke="#4a4a4a" stroke-width="0.85"/>
<rect x="458.70" y="672.90" width="5.2" height="5.2" fill="#fff" stroke="#4a4a4a" stroke-width="0.85"/>
<polygon points="358.10,469.50 358.97,472.00 361.62,472.06 359.51,473.66 360.27,476.19 358.10,474.68 355.93,476.19 356.69,473.66 354.58,472.06 357.23,472.00" fill="#4d4d4d" stroke="#4d4d4d" stroke-width="0.3"/>
<polygon points="367.60,561.40 368.47,563.90 371.12,563.96 369.01,565.56 369.77,568.09 367.60,566.58 365.43,568.09 366.19,565.56 364.08,563.96 366.73,563.90" fill="#4d4d4d" stroke="#4d4d4d" stroke-width="0.3"/>
<polygon points="377.00,604.90 377.87,607.40 380.52,607.46 378.41,609.06 379.17,611.59 377.00,610.08 374.83,611.59 375.59,609.06 373.48,607.46 376.13,607.40" fill="#4d4d4d" stroke="#4d4d4d" stroke-width="0.3"/>
<polygon points="386.50,636.00 387.37,638.50 390.02,638.56 387.91,640.16 388.67,642.69 386.50,641.18 384.33,642.69 385.09,640.16 382.98,638.56 385.63,638.50" fill="#4d4d4d" stroke="#4d4d4d" stroke-width="0.3"/>
<polygon points="423.80,660.10 424.67,662.60 427.32,662.66 425.21,664.26 425.97,666.79 423.80,665.28 421.63,666.79 422.39,664.26 420.28,662.66 422.93,662.60" fill="#4d4d4d" stroke="#4d4d4d" stroke-width="0.3"/>
<polygon points="461.30,661.80 462.17,664.30 464.82,664.36 462.71,665.96 463.47,668.49 461.30,666.98 459.13,668.49 459.89,665.96 457.78,664.36 460.43,664.30" fill="#4d4d4d" stroke="#4d4d4d" stroke-width="0.3"/>
<polygon points="498.00,671.80 498.87,674.30 501.52,674.36 499.41,675.96 500.17,678.49 498.00,676.98 495.83,678.49 496.59,675.96 494.48,674.36 497.13,674.30" fill="#4d4d4d" stroke="#4d4d4d" stroke-width="0.3"/>
<path d="M0.75,0V753M519.25,0V753M0,0.75H520" stroke="#585858" stroke-width="1.5" fill="none"/>
<path d="M0,752H520" stroke="#585858" stroke-width="2" fill="none"/>
</svg>
</body></html>
